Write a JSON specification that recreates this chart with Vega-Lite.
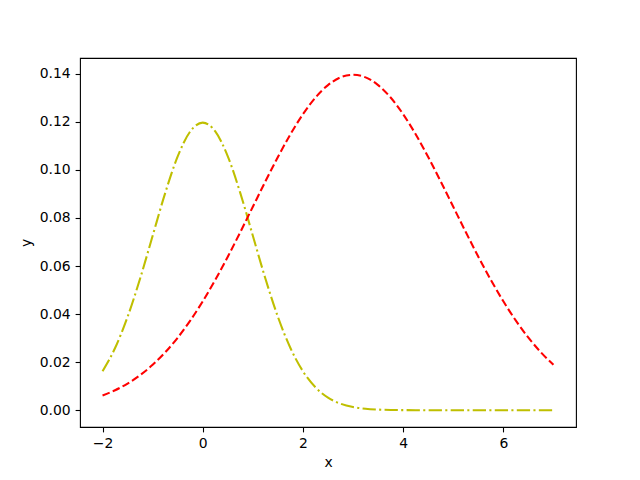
{
  "$schema": "https://vega.github.io/schema/vega-lite/v6.json",
  "autosize": {"type": "none"},
  "padding": {"left": 80, "top": 58, "right": 64, "bottom": 53},
  "width": 496,
  "height": 369,
  "background": "white",
  "config": {
    "view": {"stroke": "black", "strokeWidth": 1.1},
    "font": "DejaVu Sans",
    "axis": {
      "grid": false,
      "domain": false,
      "tickColor": "black",
      "tickSize": 4.9,
      "tickWidth": 1.1,
      "labelColor": "black",
      "labelFont": "DejaVu Sans",
      "labelFontSize": 13.9,
      "labelPadding": 4.9,
      "titleFont": "DejaVu Sans",
      "titleFontSize": 13.9,
      "titleFontWeight": "normal",
      "titleColor": "black"
    }
  },
  "datasets": {
    "red": [
      {"x": -2, "y": 0.006134}, {"x": -1.75, "y": 0.008318}, {"x": -1.5, "y": 0.011107}, {"x": -1.25, "y": 0.014601},
      {"x": -1, "y": 0.018893}, {"x": -0.75, "y": 0.024071}, {"x": -0.5, "y": 0.030191}, {"x": -0.25, "y": 0.03728},
      {"x": 0, "y": 0.045321}, {"x": 0.25, "y": 0.054244}, {"x": 0.5, "y": 0.063913}, {"x": 0.75, "y": 0.074142},
      {"x": 1, "y": 0.084672}, {"x": 1.25, "y": 0.095197}, {"x": 1.5, "y": 0.105376}, {"x": 1.75, "y": 0.114832},
      {"x": 2, "y": 0.123197}, {"x": 2.25, "y": 0.130121}, {"x": 2.5, "y": 0.135304}, {"x": 2.75, "y": 0.138514},
      {"x": 3, "y": 0.1396}, {"x": 3.25, "y": 0.138514}, {"x": 3.5, "y": 0.135304}, {"x": 3.75, "y": 0.130121},
      {"x": 4, "y": 0.123197}, {"x": 4.25, "y": 0.114832}, {"x": 4.5, "y": 0.105376}, {"x": 4.75, "y": 0.095197},
      {"x": 5, "y": 0.084672}, {"x": 5.25, "y": 0.074142}, {"x": 5.5, "y": 0.063913}, {"x": 5.75, "y": 0.054244},
      {"x": 6, "y": 0.045321}, {"x": 6.25, "y": 0.03728}, {"x": 6.5, "y": 0.030191}, {"x": 6.75, "y": 0.024071},
      {"x": 7, "y": 0.018893}
    ],
    "yellow": [
      {"x": -2, "y": 0.0162}, {"x": -1.75, "y": 0.025888}, {"x": -1.5, "y": 0.038861}, {"x": -1.25, "y": 0.054802},
      {"x": -1, "y": 0.072602}, {"x": -0.75, "y": 0.090354}, {"x": -0.5, "y": 0.105635}, {"x": -0.25, "y": 0.116017},
      {"x": 0, "y": 0.1197}, {"x": 0.25, "y": 0.116017}, {"x": 0.5, "y": 0.105635}, {"x": 0.75, "y": 0.090354},
      {"x": 1, "y": 0.072602}, {"x": 1.25, "y": 0.054802}, {"x": 1.5, "y": 0.038861}, {"x": 1.75, "y": 0.025888},
      {"x": 2, "y": 0.0162}, {"x": 2.25, "y": 0.009523}, {"x": 2.5, "y": 0.00526}, {"x": 2.75, "y": 0.002728},
      {"x": 3, "y": 0.00133}, {"x": 3.25, "y": 0.000609}, {"x": 3.5, "y": 0.000262}, {"x": 3.75, "y": 0.000106},
      {"x": 4, "y": 0.00004}, {"x": 4.25, "y": 0.000014}, {"x": 4.5, "y": 0.000005}, {"x": 4.75, "y": 0.000001},
      {"x": 5, "y": 0}, {"x": 5.25, "y": 0}, {"x": 5.5, "y": 0}, {"x": 5.75, "y": 0},
      {"x": 6, "y": 0}, {"x": 6.25, "y": 0}, {"x": 6.5, "y": 0}, {"x": 6.75, "y": 0},
      {"x": 7, "y": 0}
    ]
  },
  "encoding": {
    "x": {
      "field": "x", "type": "quantitative",
      "scale": {"domain": [-2.45, 7.45], "nice": false, "zero": false},
      "axis": {"values": [-2, 0, 2, 4, 6], "format": "d", "title": "x", "titlePadding": 5}
    },
    "y": {
      "field": "y", "type": "quantitative",
      "scale": {"domain": [-0.00698, 0.14658], "nice": false, "zero": false},
      "axis": {"values": [0, 0.02, 0.04, 0.06, 0.08, 0.1, 0.12, 0.14], "format": ".2f", "title": "y", "titlePadding": 6}
    }
  },
  "layer": [
    {
      "data": {"name": "yellow"},
      "mark": {"type": "line", "color": "#bfbf00", "strokeWidth": 2.08, "strokeDash": [13.3, 3.33, 2.08, 3.33], "interpolate": "monotone", "clip": true}
    },
    {
      "data": {"name": "red"},
      "mark": {"type": "line", "color": "#ff0000", "strokeWidth": 2.08, "strokeDash": [7.7, 3.33], "interpolate": "monotone", "clip": true}
    }
  ]
}
